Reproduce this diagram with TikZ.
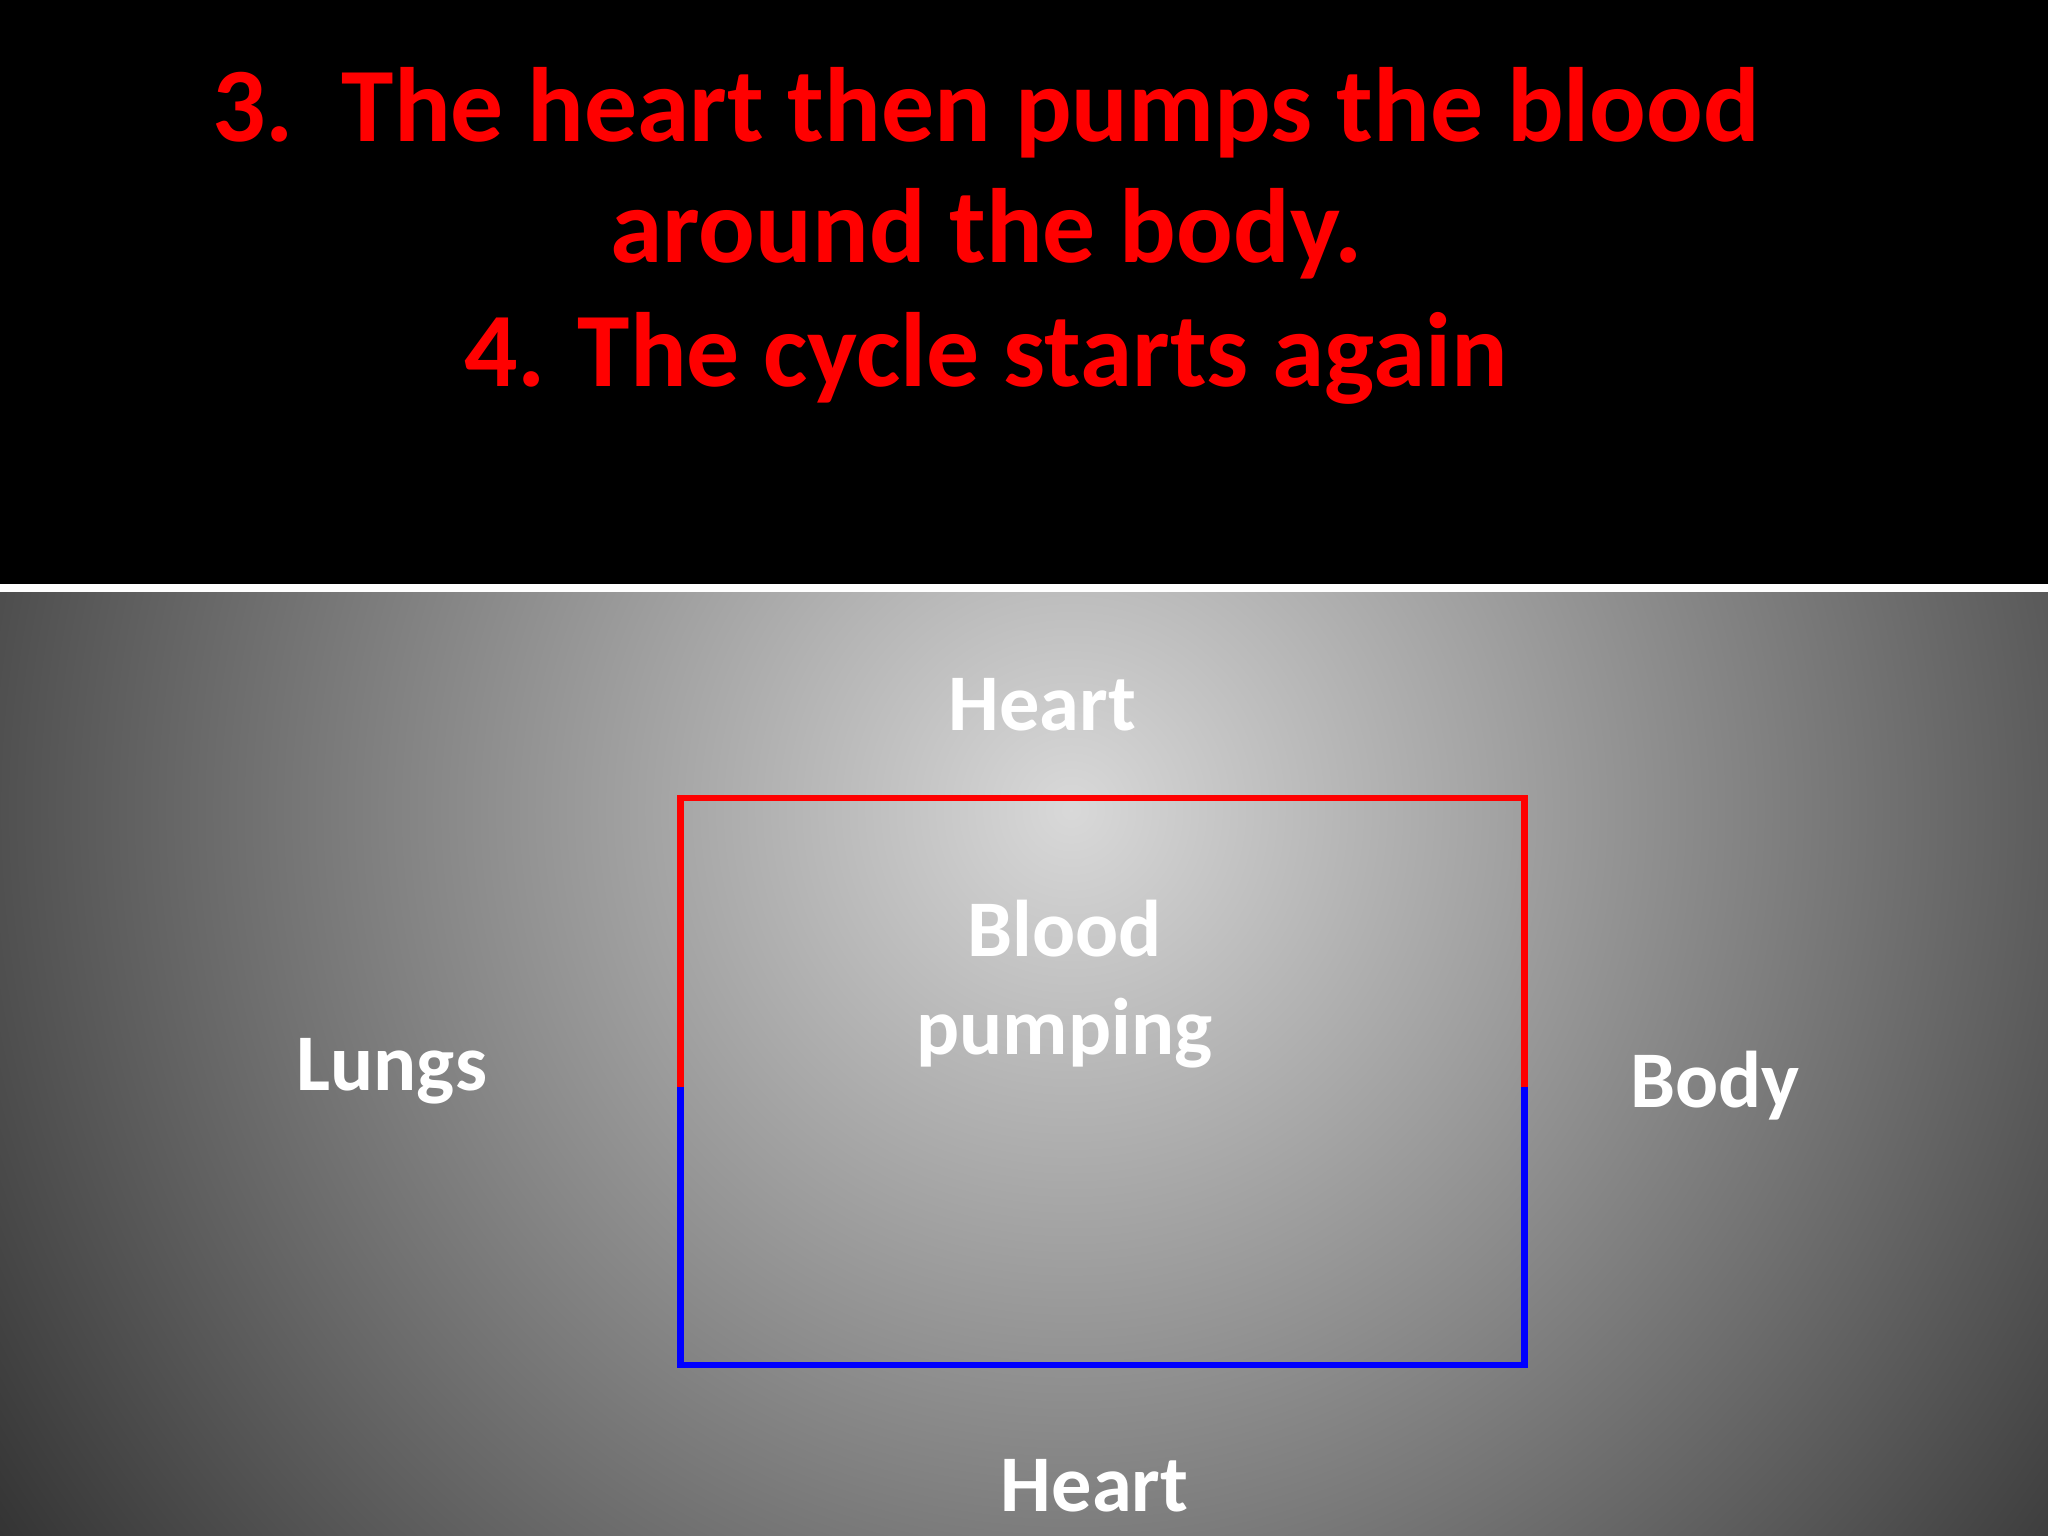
\documentclass[tikz,border=0pt]{standalone}
\usepackage{fontspec}
\setmainfont{Carlito}
\begin{document}
\begin{tikzpicture}[x=0.01cm,y=-0.01cm,
  title/.style={text=red,font=\bfseries\fontsize{23}{28}\selectfont,anchor=base},
  lab/.style={text=white,font=\bfseries\fontsize{17.5}{21}\selectfont,anchor=base},
  redline/.style={draw=red,line width=0.05cm},
  blueline/.style={draw=blue,line width=0.05cm}]
\useasboundingbox (0,0) rectangle (1568,1176);
\fill[black] (0,0) rectangle (1568,447);
\begin{scope}
\clip (0,453) rectangle (1568,1176);
\shade[inner color=gray!30!white, outer color=black!90] (820,620) circle (1150);
\end{scope}
\fill[white] (0,447) rectangle (1568,453);
\node[title] (t1) at (755,108) {3.\ \ The heart then pumps the blood};
\node[title] (t2) at (755,201) {around the body.};
\node[title] (t3) at (755,296) {4. The cycle starts again};
\coordinate (tl) at (521,611);
\coordinate (tr) at (1167,611);
\coordinate (ml) at (521,832);
\coordinate (mr) at (1167,832);
\coordinate (bl) at (521,1045);
\coordinate (br) at (1167,1045);
\draw[redline] (ml) -- (tl) -- (tr) -- (mr);
\draw[blueline] (ml) -- (bl) -- (br) -- (mr);
\node[lab] (h1) at (798,559) {Heart};
\node[lab] (b1) at (815,732) {Blood};
\node[lab] (b2) at (815,807) {pumping};
\node[lab] (lu) at (300,835) {Lungs};
\node[lab] (bo) at (1313,848) {Body};
\node[lab] (h2) at (838,1157) {Heart};
\end{tikzpicture}
\end{document}
